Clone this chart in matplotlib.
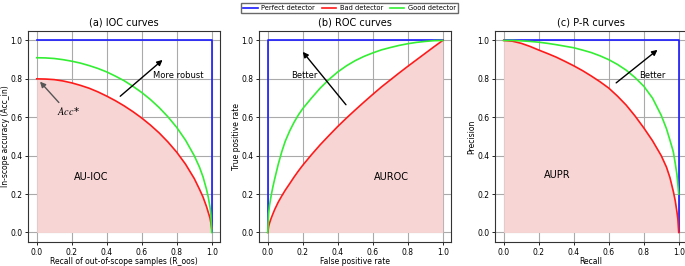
import numpy as np
import matplotlib
matplotlib.use('Agg')
import matplotlib.pyplot as plt

plt.rcParams['font.family'] = ['DejaVu Sans']
plt.rcParams['mathtext.fontset'] = 'stix'

# (a) IOC curves
ioc_x = [0.0, 0.05, 0.1, 0.15, 0.2, 0.25, 0.3, 0.35, 0.4, 0.45, 0.5, 0.55, 0.6, 0.65,
         0.7, 0.75, 0.8, 0.85, 0.9, 0.93, 0.95, 0.97, 0.98, 0.99, 0.995, 1.0]
ioc_bad = [0.80, 0.799, 0.796, 0.789, 0.779, 0.766, 0.751, 0.732, 0.710, 0.686, 0.659, 0.629, 0.596, 0.559,
           0.518, 0.471, 0.418, 0.356, 0.281, 0.225, 0.185, 0.135, 0.105, 0.075, 0.05, 0.02]
ioc_good = [0.91, 0.909, 0.906, 0.900, 0.892, 0.882, 0.869, 0.854, 0.836, 0.814, 0.790, 0.761, 0.729, 0.692,
            0.650, 0.602, 0.547, 0.481, 0.400, 0.340, 0.290, 0.225, 0.185, 0.132, 0.095, 0.0]
ioc_perfect_x = [0.0, 1.0, 1.0]
ioc_perfect_y = [1.0, 1.0, 0.0]

# (b) ROC curves
roc_x = [0.0, 0.005, 0.01, 0.02, 0.03, 0.04, 0.06, 0.08, 0.1, 0.126, 0.15, 0.175, 0.2, 0.25, 0.3, 0.35, 0.4,
         0.45, 0.5, 0.55, 0.6, 0.65, 0.7, 0.75, 0.8, 0.85, 0.9, 0.95, 1.0]
roc_bad = [0.0, 0.03, 0.048, 0.075, 0.098, 0.12, 0.158, 0.19, 0.22, 0.255, 0.288, 0.32, 0.35, 0.405, 0.457, 0.505,
           0.552, 0.596, 0.638, 0.679, 0.719, 0.758, 0.794, 0.830, 0.865, 0.899, 0.933, 0.967, 1.0]
roc_good = [0.0, 0.10, 0.14, 0.195, 0.24, 0.28, 0.355, 0.42, 0.475, 0.53, 0.573, 0.612, 0.645, 0.70, 0.752, 0.797,
            0.836, 0.868, 0.895, 0.917, 0.935, 0.951, 0.963, 0.974, 0.983, 0.99, 0.995, 0.999, 1.0]
roc_perfect_x = [0.0, 0.0, 1.0]
roc_perfect_y = [0.0, 1.0, 1.0]

# (c) P-R curves
pr_x = [0.0, 0.05, 0.1, 0.15, 0.2, 0.25, 0.3, 0.35, 0.4, 0.45, 0.5, 0.55, 0.6, 0.65, 0.7, 0.75,
        0.8, 0.85, 0.9, 0.93, 0.95, 0.966, 0.97, 0.98, 0.99, 0.995, 1.0]
pr_bad = [1.0, 0.996, 0.985, 0.969, 0.95, 0.932, 0.913, 0.891, 0.868, 0.843, 0.815, 0.785, 0.752, 0.71, 0.663, 0.607,
          0.545, 0.478, 0.40, 0.34, 0.285, 0.225, 0.21, 0.165, 0.105, 0.07, 0.0]
pr_good = [1.0, 1.0, 0.998, 0.995, 0.991, 0.985, 0.978, 0.97, 0.962, 0.95, 0.937, 0.92, 0.90, 0.875, 0.845, 0.807,
           0.762, 0.70, 0.61, 0.54, 0.48, 0.43, 0.415, 0.36, 0.30, 0.25, 0.2]
pr_perfect_x = [0.0, 1.0, 1.0]
pr_perfect_y = [1.0, 1.0, 0.0]

blue = '#1a1aff'
red = '#ff1a1a'
green = '#33ee33'
fill = '#f8d5d5'
lw = 1.2

fig = plt.figure(figsize=(6.85, 2.66), dpi=100)
lefts = [28 / 685, 259 / 685, 495 / 685]
axes = [fig.add_axes([l, 0.09, 0.281, 0.794]) for l in lefts]

panels = [
    (ioc_x, ioc_bad, ioc_good, ioc_perfect_x, ioc_perfect_y, '(a) IOC curves',
     'Recall of out-of-scope samples (R_oos)', 'In-scope accuracy (Acc_in)'),
    (roc_x, roc_bad, roc_good, roc_perfect_x, roc_perfect_y, '(b) ROC curves',
     'False positive rate', 'True positive rate'),
    (pr_x, pr_bad, pr_good, pr_perfect_x, pr_perfect_y, '(c) P-R curves',
     'Recall', 'Precision'),
]

for ax, (x, bad, good, px, py, title, xlab, ylab) in zip(axes, panels):
    ax.fill_between(x, 0, bad, color=fill, lw=0, zorder=1)
    ax.grid(True, color='#aaaaaa', lw=0.8, zorder=0)
    ax.set_axisbelow(True)
    l1, = ax.plot(px, py, color=blue, lw=lw, label='Perfect detector', zorder=3)
    l2, = ax.plot(x, bad, color=red, lw=lw, label='Bad detector', zorder=3)
    l3, = ax.plot(x, good, color=green, lw=lw, label='Good detector', zorder=3)
    ax.set_xlim(-0.05, 1.05)
    ax.set_ylim(-0.05, 1.05)
    ax.set_xticks(np.arange(0, 1.01, 0.2))
    ax.set_yticks(np.arange(0, 1.01, 0.2))
    ax.tick_params(labelsize=5.5, length=2.5, width=0.6, pad=1.5)
    ax.set_title(title, fontsize=7, pad=4)
    ax.set_xlabel(xlab, fontsize=5.5, labelpad=0.3)
    ax.set_ylabel(ylab, fontsize=5.5, labelpad=0.5)
    for s in ax.spines.values():
        s.set_linewidth(0.8)
        s.set_color('#333333')

ax = axes[0]
ax.annotate('', xy=(0.731, 0.908), xytext=(0.465, 0.70),
            arrowprops=dict(arrowstyle='-|>', color='black', lw=1.0, mutation_scale=8), zorder=5)
ax.text(0.667, 0.818, 'More robust', fontsize=6, va='center')
ax.annotate('', xy=(0.008, 0.796), xytext=(0.137, 0.666),
            arrowprops=dict(arrowstyle='-|>', color='#555555', lw=1.0, mutation_scale=8), zorder=5)
ax.text(0.114, 0.632, r'$Acc$*', fontsize=7.5, va='center')
ax.text(0.21, 0.289, 'AU-IOC', fontsize=7, va='center')

ax = axes[1]
ax.annotate('', xy=(0.19, 0.952), xytext=(0.457, 0.654),
            arrowprops=dict(arrowstyle='-|>', color='black', lw=1.0, mutation_scale=8), zorder=5)
ax.text(0.133, 0.818, 'Better', fontsize=6, va='center')
ax.text(0.604, 0.29, 'AUROC', fontsize=7, va='center')

ax = axes[2]
ax.annotate('', xy=(0.891, 0.96), xytext=(0.63, 0.77),
            arrowprops=dict(arrowstyle='-|>', color='black', lw=1.0, mutation_scale=8), zorder=5)
ax.text(0.771, 0.818, 'Better', fontsize=6, va='center')
ax.text(0.23, 0.30, 'AUPR', fontsize=7, va='center')

fig.legend(handles=[l1, l2, l3], loc='upper center', bbox_to_anchor=(349.5 / 685, 1.0),
           ncol=3, fontsize=4.8, frameon=True, fancybox=False, edgecolor='#444444',
           handlelength=2.2, columnspacing=1.0, handletextpad=0.5, borderpad=0.3)

fig.savefig('out.png', dpi=100)
